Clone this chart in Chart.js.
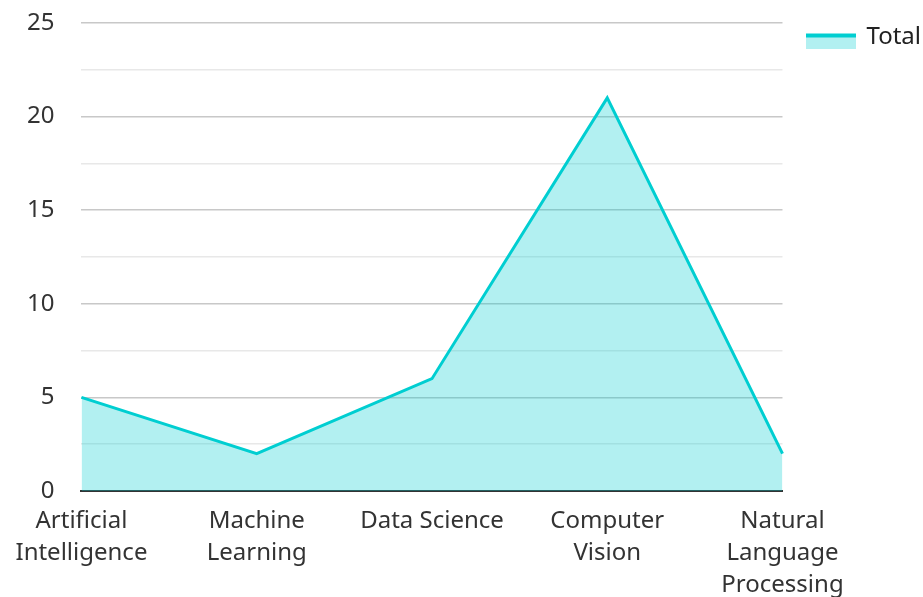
<!DOCTYPE html>
<html>
<head>
<meta charset="utf-8">
<script src="https://cdn.jsdelivr.net/npm/chart.js@4.4.1/dist/chart.umd.min.js"></script>
<style>
  html, body { margin: 0; padding: 0; background: #fff; }
  #wrap { width: 923px; height: 597px; }
</style>
</head>
<body>
<div id="wrap"><canvas id="topicChart"></canvas></div>
<script>
const categories = [
  ["Artificial", "Intelligence"],
  ["Machine", "Learning"],
  "Data Science",
  ["Computer", "Vision"],
  ["Natural", "Language", "Processing"]
];
const totals = [5, 2, 6, 21, 2];
const yTicks = [0, 5, 10, 15, 20, 25];

const lineColor = "#00CED1";
const fillColor = "rgba(0, 206, 209, 0.3)";

// legend swatch: thick line on top, light fill under it
// (blank rows on top push it a little lower than the text centre)
const swatch = document.createElement("canvas");
swatch.width = 50;
swatch.height = 23;
const sctx = swatch.getContext("2d");
sctx.fillStyle = fillColor;
sctx.fillRect(0, 8, 50, 15);
sctx.fillStyle = lineColor;
sctx.fillRect(0, 8, 50, 4);

Chart.defaults.font.family = "'Noto Sans', 'Open Sans', sans-serif";
Chart.defaults.font.size = 24;
Chart.defaults.color = "#333";

const ctx = document.getElementById("topicChart").getContext("2d");

new Chart(ctx, {
  type: "line",
  data: {
    labels: categories,
    datasets: [{
      label: "Total",
      data: totals,
      borderColor: lineColor,
      backgroundColor: fillColor,
      borderWidth: 3,
      fill: "origin",
      tension: 0,
      pointRadius: 0,
      pointHoverRadius: 0
    }]
  },
  options: {
    responsive: true,
    maintainAspectRatio: false,
    animation: false,
    layout: { padding: { top: 0, left: 0, right: -8, bottom: 0 } },
    plugins: {
      legend: {
        position: "right",
        align: "start",
        labels: {
          usePointStyle: true,
          pointStyle: swatch,
          pointStyleWidth: 47,
          boxHeight: 15,
          color: "#222",
          padding: 25
        }
      },
      tooltip: { enabled: false }
    },
    scales: {
      x: {
        grid: { display: false, drawTicks: false },
        border: { display: true, color: "#333", width: 2 },
        ticks: {
          padding: 14,
          maxRotation: 0,
          autoSkip: false,
          font: { size: 24, lineHeight: 1.33 }
        },
        afterFit: s => { s.height = 106; }
      },
      y: {
        min: 0,
        max: yTicks[yTicks.length - 1],
        border: { display: false },
        grid: {
          drawTicks: false,
          lineWidth: 1.5,
          color: c => (c.tick.value % 5 === 0 ? "#c8c8c8" : "#e8e8e8")
        },
        ticks: {
          stepSize: 2.5,
          padding: 27,
          callback: v => (yTicks.includes(v) ? v : "")
        },
        afterFit: s => { s.paddingTop = 23; }
      }
    }
  }
});
</script>
</body>
</html>
